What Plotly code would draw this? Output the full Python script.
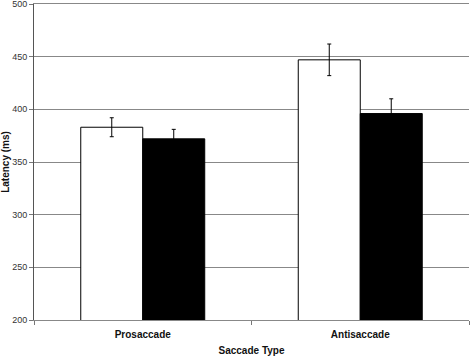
import plotly.graph_objects as go

categories = ["Prosaccade", "Antisaccade"]
series_a = [383, 447]
series_a_err = [9, 15]
series_b = [372, 396]
series_b_err = [9, 14]
y_ticks = [200, 250, 300, 350, 400, 450, 500]

fig = go.Figure()
fig.add_trace(go.Bar(
    x=categories, y=series_a, name="A",
    marker=dict(color="white", line=dict(color="black", width=1)),
    error_y=dict(type="data", array=series_a_err, color="black", thickness=1, width=2),
))
fig.add_trace(go.Bar(
    x=categories, y=series_b, name="B",
    marker=dict(color="black", line=dict(color="black", width=1)),
    error_y=dict(type="data", array=series_b_err, color="black", thickness=1, width=2),
))

font_family = "Liberation Sans, Arial, sans-serif"
fig.update_layout(
    width=474, height=356,
    margin=dict(l=34, r=5, t=4, b=36),
    paper_bgcolor="white", plot_bgcolor="white",
    barmode="group", bargap=0.43, bargroupgap=0,
    showlegend=False,
    font=dict(family=font_family, size=10, color="#222"),
    xaxis=dict(
        type="category", showgrid=False, zeroline=False, automargin=False,
        showline=True, linecolor="#888", linewidth=1, mirror=True,
        ticks="outside", tickson="boundaries", ticklen=4, tickcolor="#777",
        ticklabelstandoff=5,
        tickfont=dict(size=10, family=font_family, weight="bold", color="#111"),
        title=dict(text="<b>Saccade Type</b>", font=dict(size=10, family=font_family, color="#111"), standoff=8),
    ),
    yaxis=dict(
        range=[200, 500], tickvals=y_ticks, automargin=False,
        ticklabeloverflow="allow",
        showgrid=True, gridcolor="#888", gridwidth=1,
        zeroline=False, showline=True, linecolor="#555", linewidth=1,
        ticks="outside", ticklen=4, tickcolor="#777",
        tickfont=dict(size=9, family=font_family, color="#333"),
        title=dict(text="<b>Latency (ms)</b>", font=dict(size=10, family=font_family, color="#111"), standoff=6),
    ),
)

fig.write_html("out.html", config={"displayModeBar": False},
               post_script="document.body.style.margin='0';")
